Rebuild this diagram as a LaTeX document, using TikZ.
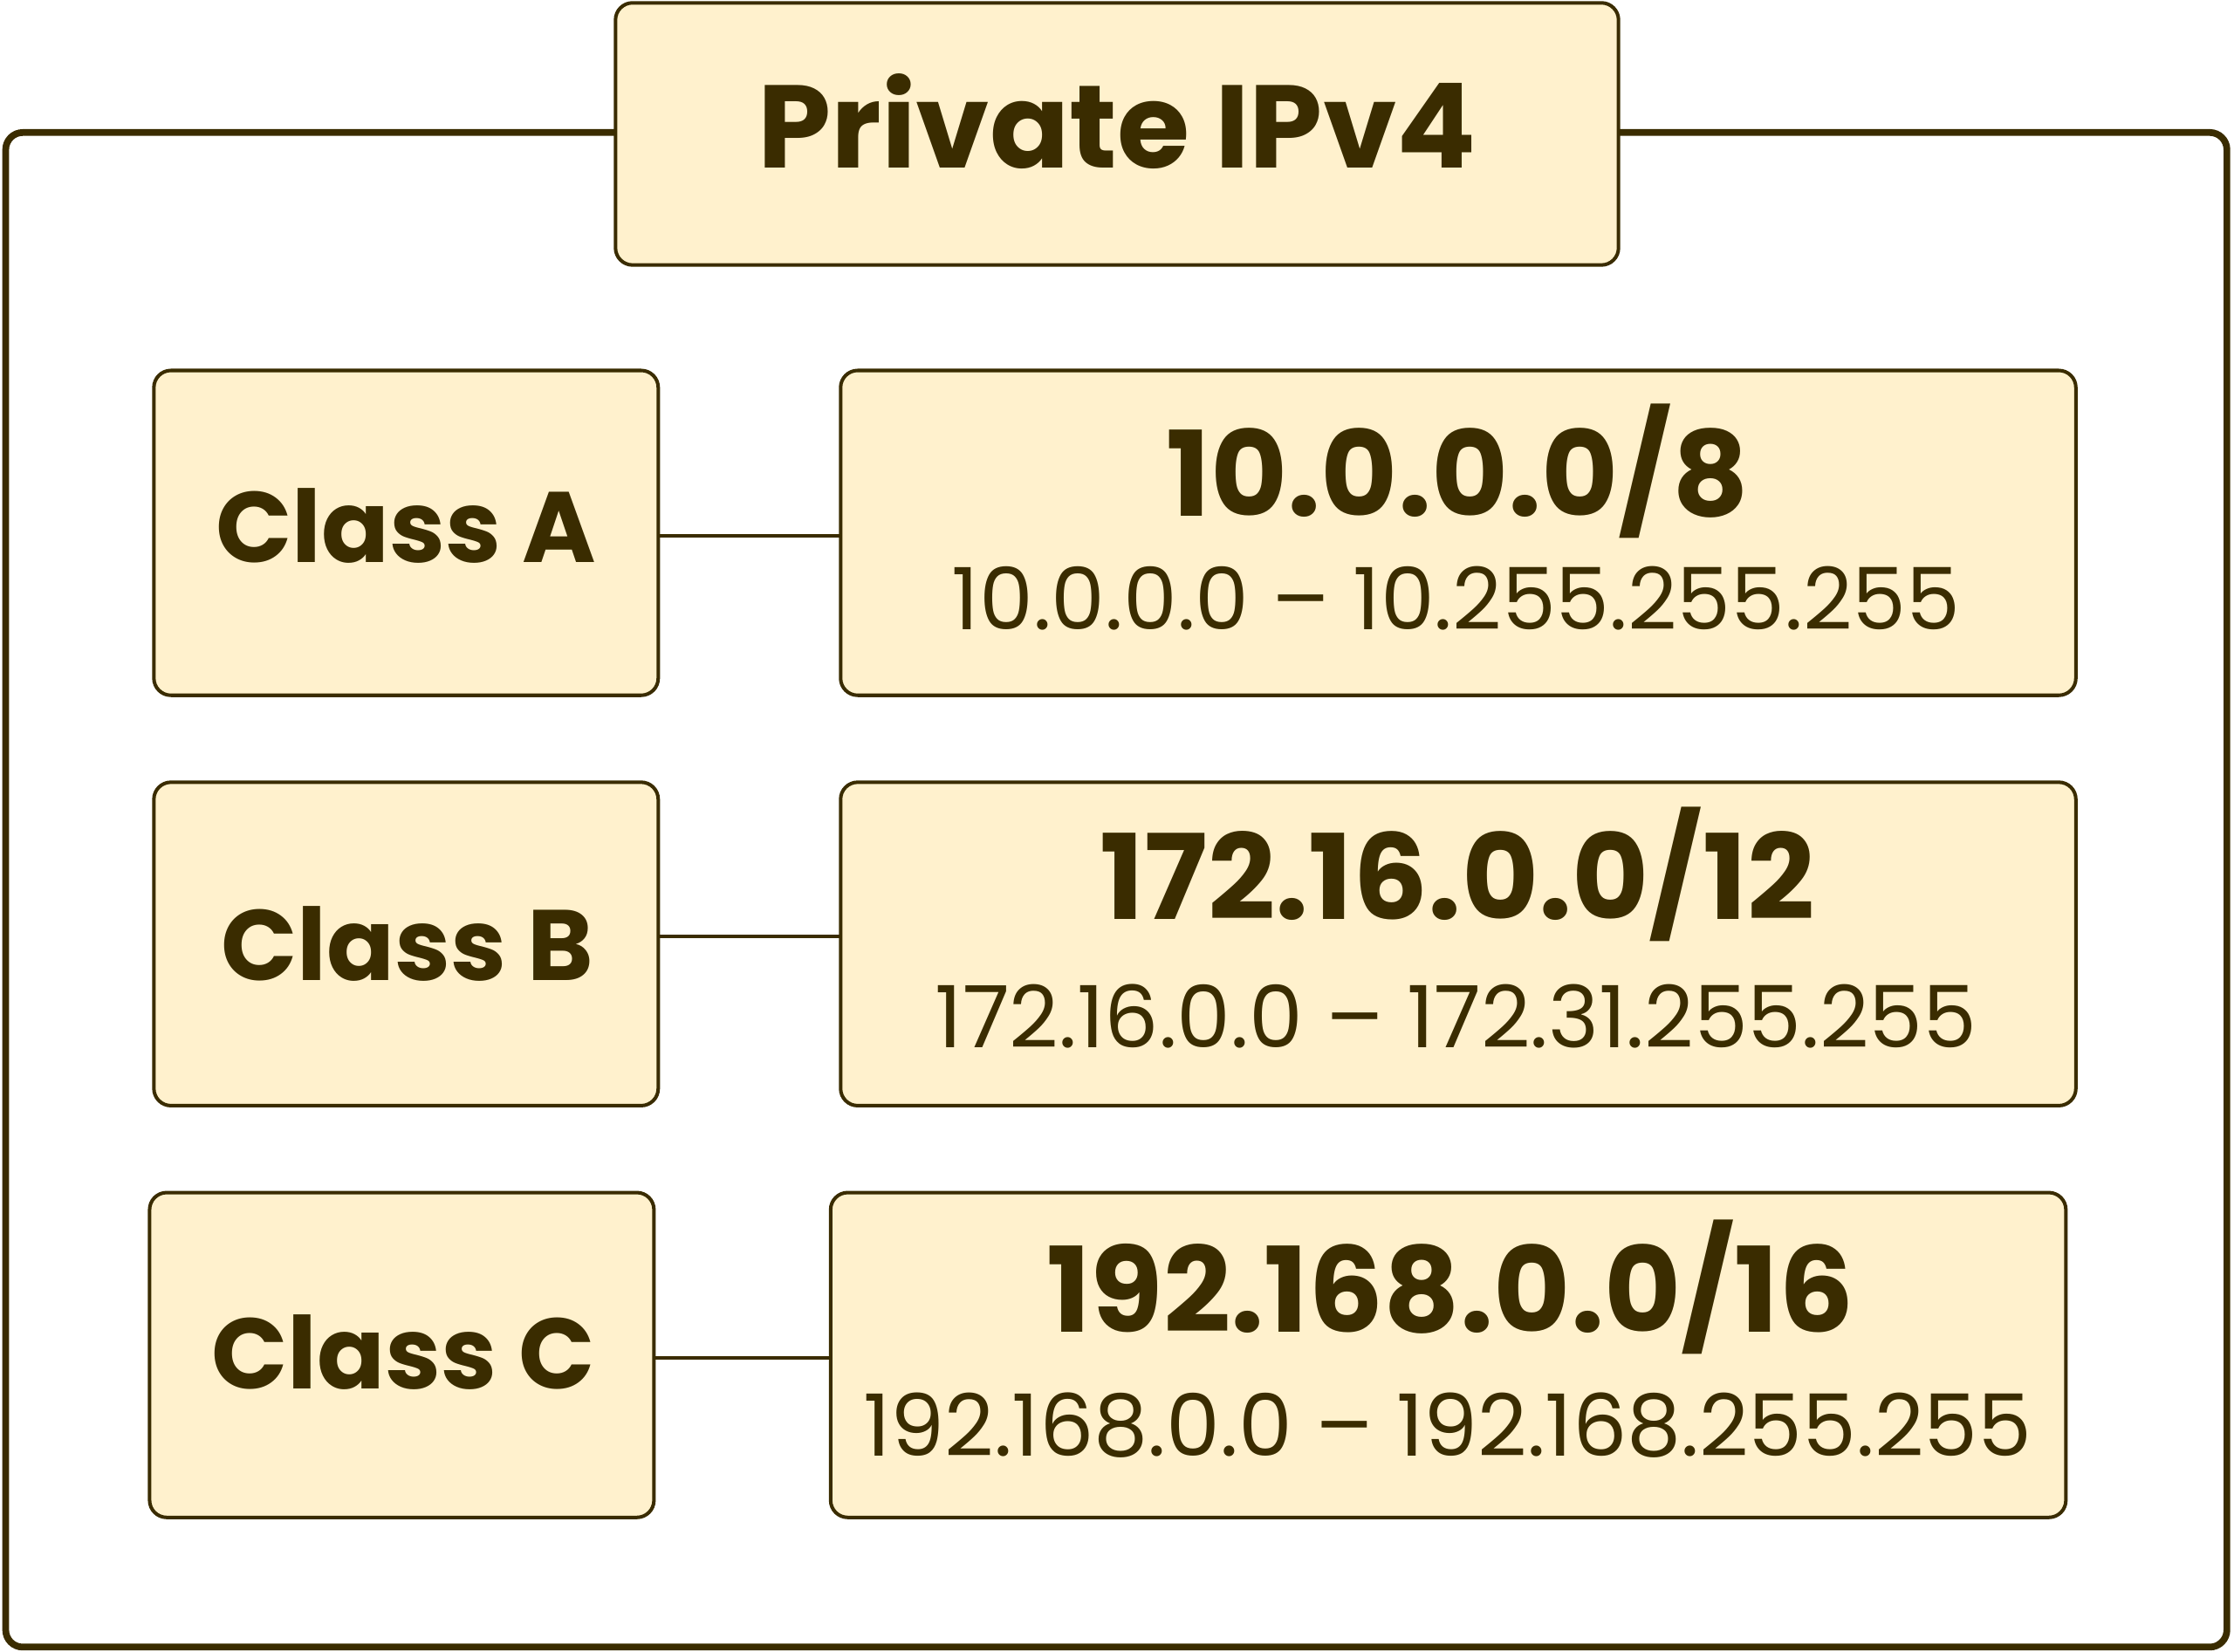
\documentclass[tikz,border=0pt]{standalone}
\usepackage{fontspec}
\setmainfont{Poppins}[BoldFont={* Bold}]
\definecolor{fillc}{HTML}{FFF1CD}
\definecolor{ink}{HTML}{3A2C00}
\begin{document}
\begin{tikzpicture}[x=0.02cm,y=-0.02cm,
  box/.style={draw=ink,fill=fillc,line width=1.4pt,rounded corners=0.24cm},
  link/.style={draw=ink,line width=1.4pt},
  ttl/.style={font=\fontsize{47}{50}\selectfont\bfseries,text=ink},
  cls/.style={font=\fontsize{40}{44}\selectfont\bfseries,text=ink},
  net/.style={font=\fontsize{47.2}{50}\selectfont\bfseries,text=ink},
  rng/.style={font=\fontsize{34.3}{38}\selectfont,text=ink}]
\useasboundingbox (0,0) rectangle (1568,1159);
% outer frame
\draw[draw=ink,line width=2.7pt,rounded corners=0.24cm] (4,93) rectangle (1563,1156);
% title
\draw[box] (432,2) rectangle (1136,186);
\node[ttl,anchor=base] (title) at (784,118) {Private IPv4};
% boxes
\draw[box] (108,260) rectangle (462,488);
\draw[box] (590,260) rectangle (1457,488);
\draw[box] (108,549) rectangle (462,776);
\draw[box] (590,549) rectangle (1457,776);
\draw[box] (105,837) rectangle (459,1065);
\draw[box] (583,837) rectangle (1450,1065);
\coordinate (a1) at (462,376); \coordinate (a2) at (590,376);
\coordinate (b1) at (462,657); \coordinate (b2) at (590,657);
\coordinate (c1) at (459,953); \coordinate (c2) at (583,953);
\draw[link] (a1) -- (a2);
\draw[link] (b1) -- (b2);
\draw[link] (c1) -- (c2);
% texts
\node[cls,anchor=base] (ca) at (285,395) {Class A};
\node[cls,anchor=base] (cb) at (286,688) {Class B};
\node[cls,anchor=base] (cc) at (283,975) {Class C};
\node[net,anchor=base] (na) at (1023,362) {10.0.0.0/8};
\node[rng,anchor=base] (ra) at (1022,442) {10.0.0.0 – 10.255.255.255};
\node[net,anchor=base] (nb) at (1023,645) {172.16.0.0/12};
\node[rng,anchor=base] (rb) at (1022,735) {172.16.0.0 – 172.31.255.255};
\node[net,anchor=base] (nc) at (1018,935) {192.168.0.0/16};
\node[rng,anchor=base] (rc) at (1016,1022) {192.168.0.0 – 192.168.255.255};
\end{tikzpicture}
\end{document}
